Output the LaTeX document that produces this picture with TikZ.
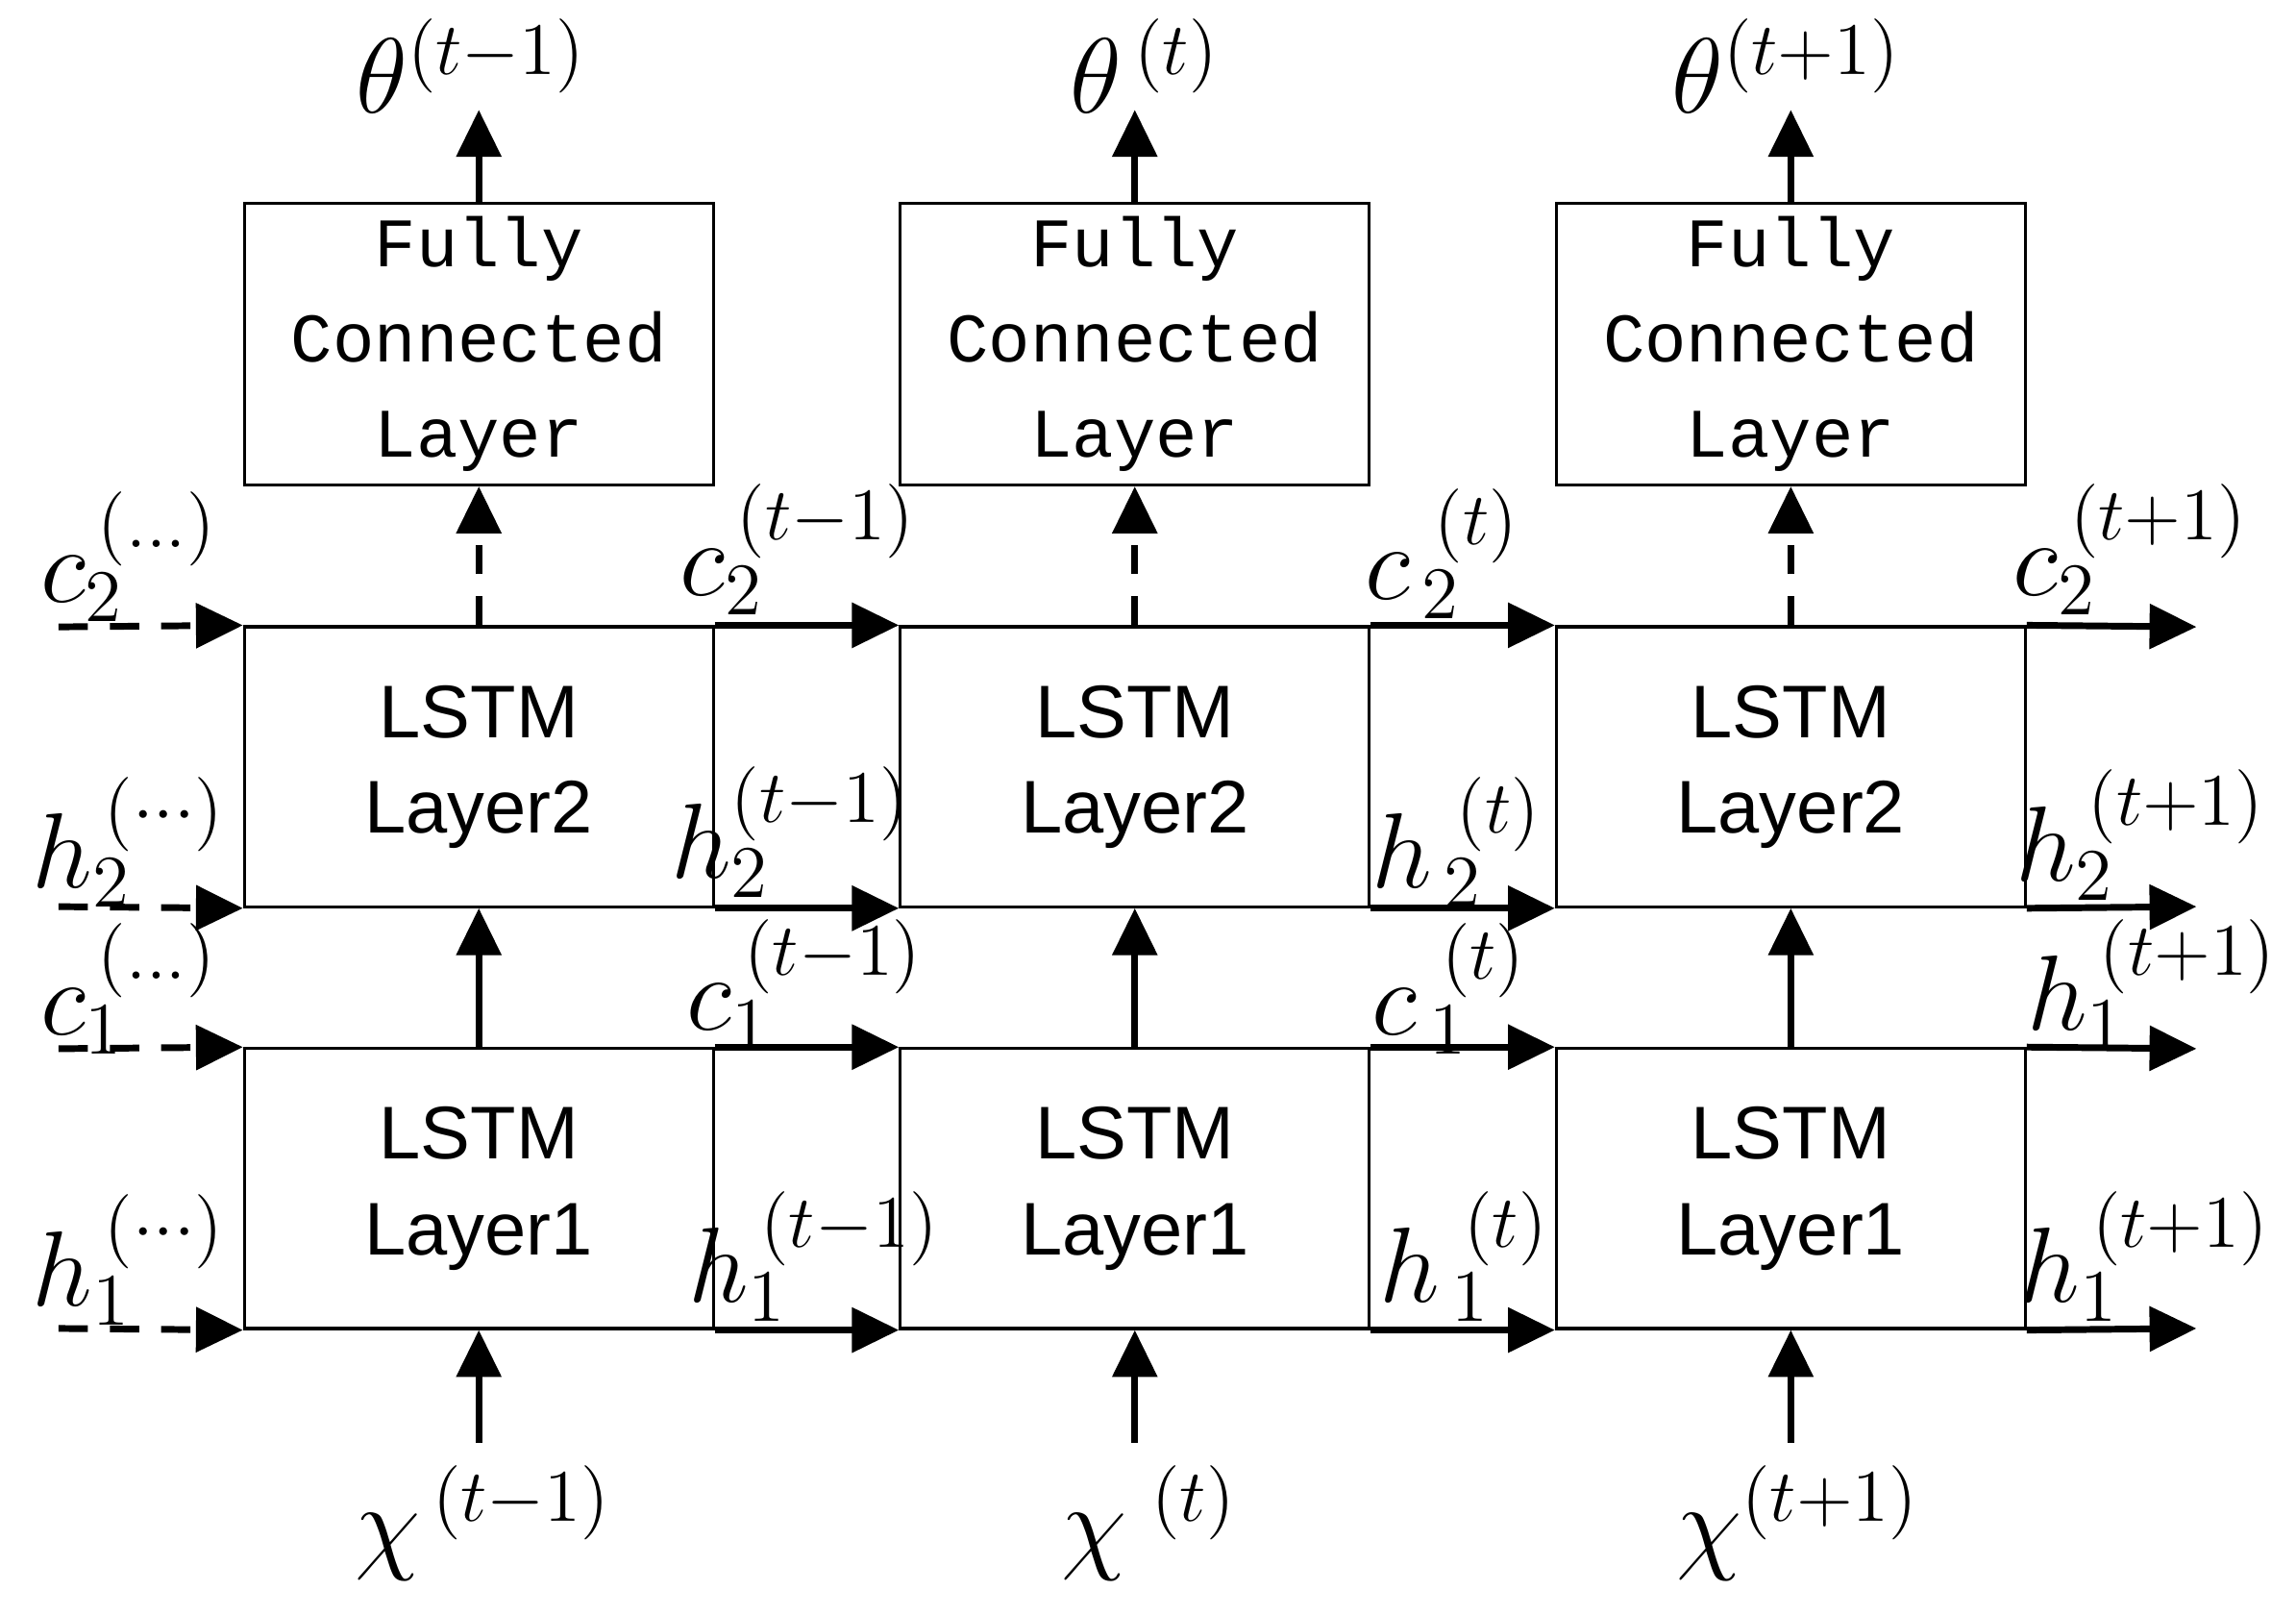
\documentclass[tikz,border=0pt]{standalone}
\usepackage{fontspec}
\setmainfont{Liberation Serif}
\newfontfamily\lsans{Liberation Sans}
\newfontfamily\lmono{Liberation Mono}
\usetikzlibrary{arrows.meta}
\begin{document}
\begin{tikzpicture}[x=0.01cm,y=-0.01cm,
 box/.style={draw,line width=0.6pt,minimum width=3.2cm,inner sep=0pt,align=center},
 fc/.style={box,minimum height=1.92cm,font=\lmono\fontsize{13.5}{18.5}\selectfont},
 ls/.style={box,minimum height=1.91cm,font=\lsans\fontsize{14.5}{18.5}\selectfont},
 arr/.style={line width=1.3pt,-{Triangle[length=0.32cm,width=0.3cm]}},
 darr/.style={arr,dash pattern=on 0.2cm off 0.15cm},
 big/.style={font=\fontsize{20}{22}\selectfont}]
\useasboundingbox (0,0) rectangle (1568,1102);
\foreach \i/\x in {1/327,2/775,3/1223}{
 \node[fc] (fc\i) at (\x,235) {Fully\\Connected\\Layer};
 \node[ls] (la\i) at (\x,523.5) {LSTM\\Layer2};
 \node[ls] (lb\i) at (\x,811.5) {LSTM\\Layer1};
 \coordinate (th\i) at (\x,75);
 \coordinate (in\i) at (\x,985);
 \draw[arr] (fc\i.north) -- (th\i);
 \draw[darr] (la\i.north) -- (fc\i.south);
 \draw[arr] (lb\i.north) -- (la\i.south);
 \draw[arr] (in\i) -- (lb\i.south);
}
\foreach \y/\n in {428/a,619/b,716/c,907/d}{
 \coordinate (L\n) at (40,\y); \coordinate (R\n) at (1500,\y);
}
\draw[darr] (La) -- (la1.north west);
\draw[darr] (Lb) -- (la1.south west);
\draw[darr] (Lc) -- (lb1.north west);
\draw[darr] (Ld) -- (lb1.south west);
\foreach \a/\b in {1/2,2/3}{
 \draw[arr] (la\a.north east) -- (la\b.north west);
 \draw[arr] (la\a.south east) -- (la\b.south west);
 \draw[arr] (lb\a.north east) -- (lb\b.north west);
 \draw[arr] (lb\a.south east) -- (lb\b.south west);
}
\draw[arr] (la3.north east) -- (Ra);
\draw[arr] (la3.south east) -- (Rb);
\draw[arr] (lb3.north east) -- (Rc);
\draw[arr] (lb3.south east) -- (Rd);
% labels
\node[big] (t1) at (322,45) {$\theta^{(t-1)}$};
\node[big] (t2) at (782,45) {$\theta^{\,(t)}$};
\node[big] (t3) at (1220,45) {$\theta^{(t+1)}$};
\node[big] (x1) at (330,1040) {$\chi^{\,(t-1)}$};
\node[big] (x2) at (785,1040) {$\chi^{\,\,(t)}$};
\node[big] (x3) at (1228,1040) {$\chi^{(t+1)}$};
\node[big] (c2a) at (88,380) {$c_2^{\,(\ldots)}$};
\node[big] (c2b) at (545,375) {$c_2^{\,(t-1)}$};
\node[big] (c2c) at (985,378) {$c_{\,2}^{\,\,(t)}$};
\node[big] (c2d) at (1455,375) {$c_2^{\,(t+1)}$};
\node[big] (h2a) at (88,575) {$h_2^{\,(\cdots)}$};
\node[big] (h2b) at (540,568) {$h_2^{(t-1)}$};
\node[big] (h2c) at (995,575) {$h_{\,2}^{\,\,(t)}$};
\node[big] (h2d) at (1462,570) {$h_2^{\,(t+1)}$};
\node[big] (c1a) at (88,675) {$c_1^{\,(\ldots)}$};
\node[big] (c1b) at (550,672) {$c_1^{\,(t-1)}$};
\node[big] (c1c) at (990,675) {$c_{\,1}^{\,\,(t)}$};
\node[big] (c1d) at (1470,672) {$h_1^{\,(t+1)}$};
\node[big] (h1a) at (88,860) {$h_1^{\,(\cdots)}$};
\node[big] (h1b) at (556,858) {$h_1^{\,(t-1)}$};
\node[big] (h1c) at (1000,858) {$h_{\,1}^{\,\,(t)}$};
\node[big] (h1d) at (1465,858) {$h_1^{\,(t+1)}$};
\end{tikzpicture}
\end{document}
